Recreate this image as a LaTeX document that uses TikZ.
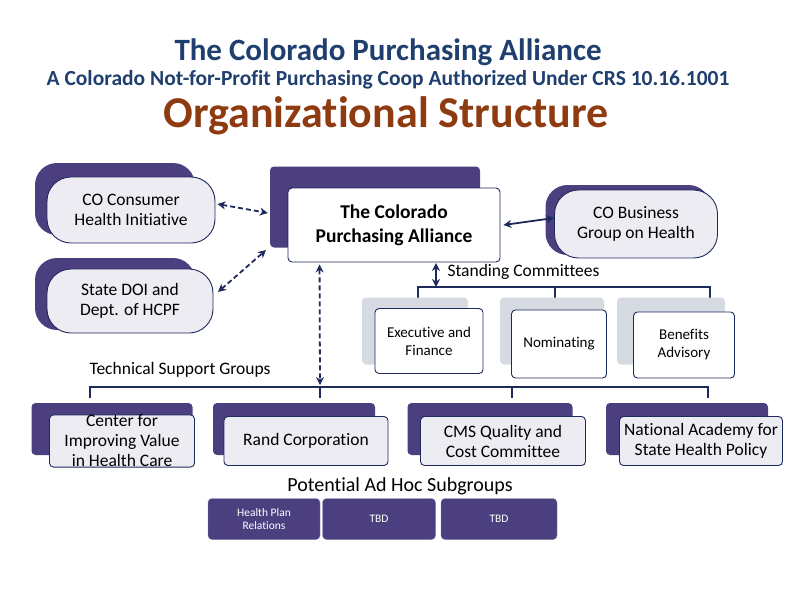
\documentclass[tikz,border=0pt]{standalone}
\usepackage{fontspec}
\setmainfont{Carlito}[Ligatures=NoCommon]
\usetikzlibrary{arrows.meta,positioning,calc}
\definecolor{titleblue}{HTML}{1F3F6E}
\definecolor{rust}{HTML}{8E3B12}
\definecolor{plum}{HTML}{4B3F80}
\definecolor{paleplum}{HTML}{EDECF3}
\definecolor{greybox}{HTML}{D6DAE1}
\definecolor{navy}{HTML}{1F2A5C}

\begin{document}
\begin{tikzpicture}[x=1pt, y=-1pt,
        every node/.style={align=center, font=\fontsize{17.5}{20}\selectfont},
        backPill/.style={fill=plum, rounded corners=22pt, inner sep=0pt},
        frontPill/.style={draw=navy, line width=0.9pt, fill=paleplum, rounded corners=24pt, inner sep=0pt},
        backBox/.style={fill=plum, rounded corners=4pt, inner sep=0pt},
        frontBox/.style={draw=navy, line width=0.9pt, fill=paleplum, rounded corners=4pt, inner sep=0pt},
        greyBack/.style={fill=greybox, rounded corners=4pt, inner sep=0pt},
        whiteBox/.style={draw=navy, line width=0.9pt, fill=white, rounded corners=4pt, inner sep=0pt},
        subBox/.style={fill=plum, draw=plum!70, rounded corners=4pt, inner sep=0pt, text=white,
          minimum height=41pt, font=\fontsize{11.5}{13}\selectfont},
        dashlink/.style={navy, line width=1.8pt, dash pattern=on 5pt off 3pt, {Stealth[length=8pt,width=8pt]}-{Stealth[length=8pt,width=8pt]}},
        solidlink/.style={navy, line width=1.8pt, {Stealth[length=8pt,width=8pt]}-{Stealth[length=8pt,width=8pt]}},
        bar/.style={navy, line width=1.8pt}
    ]
    \useasboundingbox (0,0) rectangle (800,600);

    % titles
    \node[text=titleblue, font=\bfseries\fontsize{31}{34}\selectfont] (title) at (388,52) {The Colorado Purchasing Alliance};
    \node[text=titleblue, font=\bfseries\fontsize{21.5}{24}\selectfont] (subtitle) at (388,80) {A Colorado Not-for-Profit Purchasing Coop Authorized Under CRS 10.16.1001};
    \node[text=rust, font=\bfseries\fontsize{44}{48}\selectfont] (orgtitle) at (386,116) {Organizational Structure};

    % side partners
    \node[backPill, minimum width=160pt, minimum height=72pt] (consB) at (115,199) {};
    \node[frontPill, minimum width=168pt, minimum height=66pt] (cons) at (131,210) {CO Consumer\\Health Initiative};
    \node[backPill, minimum width=160pt, minimum height=72pt] (doiB) at (115,294) {};
    \node[frontPill, minimum width=166pt, minimum height=64pt] (doi) at (130,301) {State DOI and\\Dept. of HCPF};
    \node[backPill, minimum width=165pt, minimum height=70pt] (busB) at (628,220) {};
    \node[frontPill, minimum width=163pt, minimum height=68pt] (bus) at (636,224) {CO Business\\Group on Health};

    % alliance
    \node[backBox, minimum width=210pt, minimum height=81pt] (allB) at (375,207) {};
    \node[frontBox, fill=white, minimum width=212pt, minimum height=74pt, font=\bfseries\fontsize{19.5}{24}\selectfont] (all) at (394,225) {The Colorado\\Purchasing Alliance};

    \coordinate (doiTip) at (218,292);
    \coordinate (allTip) at (266,250);
    \draw[dashlink] ($(cons.east)+(2,-6)$) -- ($(allB.west)+(-2,6)$);
    \draw[dashlink] (doiTip) -- (allTip);
    \draw[solidlink] ($(all.east)+(3,0)$) -- ($(bus.west)+(0,-6)$);

    % standing committees
    \coordinate (scTop) at (436,263);
    \coordinate (scBar) at (436,287);
    \draw[solidlink] (scTop) -- (scBar);
    \node[anchor=west] (scLabel) at (444,272) {Standing Committees};
    \draw[bar] (418,298) -- (418,287) -- (710,287) -- (710,298);
    \draw[bar] (555,287) -- (555,298);

    \node[greyBack, minimum width=106pt, minimum height=67pt] (execB) at (415,331) {};
    \node[whiteBox, minimum width=108pt, minimum height=65pt, font=\fontsize{15}{18}\selectfont] (exec) at (429,341) {Executive and\\Finance};
    \node[greyBack, minimum width=104pt, minimum height=67pt] (nomB) at (552,331) {};
    \node[whiteBox, minimum width=95pt, minimum height=68pt, font=\fontsize{15}{18}\selectfont] (nom) at (559,344) {Nominating};
    \node[greyBack, minimum width=108pt, minimum height=67pt] (benB) at (671,331) {};
    \node[whiteBox, minimum width=101pt, minimum height=66pt, font=\fontsize{15}{18}\selectfont] (ben) at (684,345) {Benefits\\Advisory};

    % technical support groups
    \node[anchor=west] (tsLabel) at (86,370) {Technical Support Groups};
    \coordinate (tsBar) at (320,385);
    \draw[dashlink] ($(all.south west)+(32,2)$) -- (tsBar);
    \draw[bar] (90,398) -- (90,387) -- (708,387) -- (708,398);
    \draw[bar] (320,387) -- (320,398);
    \draw[bar] (512,387) -- (512,398);

    \node[backBox, minimum width=161pt, minimum height=52pt] (cviB) at (112,429) {};
    \node[frontBox, minimum width=145pt, minimum height=47pt] (cvi) at (122,441) {Center for\\Improving Value\\in Health Care};
    \node[backBox, minimum width=162pt, minimum height=52pt] (randB) at (294,429) {};
    \node[frontBox, minimum width=164pt, minimum height=49pt] (rand) at (306,441) {Rand Corporation};
    \node[backBox, minimum width=165pt, minimum height=52pt] (cmsB) at (490,429) {};
    \node[frontBox, minimum width=165pt, minimum height=49pt] (cms) at (503,441) {CMS Quality and\\Cost Committee};
    \node[backBox, minimum width=162pt, minimum height=52pt] (naB) at (687,429) {};
    \node[frontBox, minimum width=163pt, minimum height=49pt] (na) at (701,441) {National Academy for\\State Health Policy};

    % ad hoc subgroups
    \node[font=\fontsize{20}{23}\selectfont] (ahLabel) at (400,486) {Potential Ad Hoc Subgroups};
    \node[subBox, minimum width=112pt] (hpr) at (264,519) {Health Plan\\Relations};
    \node[subBox, minimum width=113pt] (tbdA) at (379,519) {TBD};
    \node[subBox, minimum width=116pt] (tbdB) at (499,519) {TBD};
\end{tikzpicture}
\end{document}
